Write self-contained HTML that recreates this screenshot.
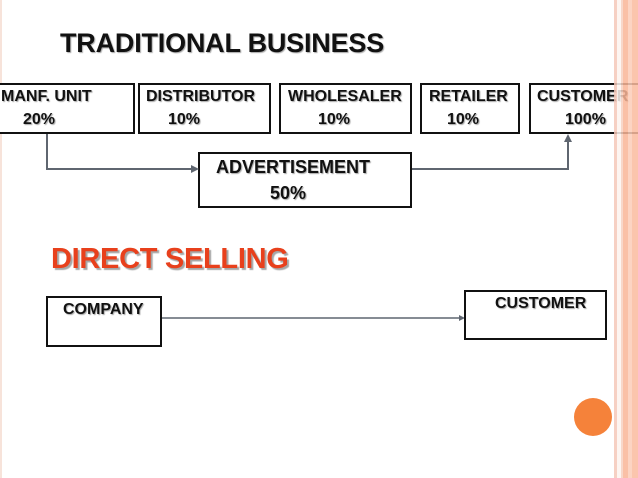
<!DOCTYPE html>
<html><head><meta charset="utf-8"><style>
html,body{margin:0;padding:0}
body{width:638px;height:478px;position:relative;overflow:hidden;background:#fff;font-family:"Liberation Sans",Arial,sans-serif;font-weight:bold;color:#111}
.t{position:absolute;white-space:nowrap;text-shadow:1px 1px 1px rgba(0,0,0,.35)}
.b{position:absolute;border:2px solid #111;box-sizing:border-box;background:#fff}
.s{position:absolute;top:0;height:478px}
</style></head><body>
<div class="s" style="left:0;width:2px;background:#f7e3da"></div>

<div class="t" style="left:60px;top:28px;font-size:27px;letter-spacing:-0.2px">TRADITIONAL BUSINESS</div>

<div class="b" style="left:-4px;top:83px;width:139px;height:51px"></div>
<div class="b" style="left:138px;top:83px;width:133px;height:51px"></div>
<div class="b" style="left:279px;top:83px;width:133px;height:51px"></div>
<div class="b" style="left:420px;top:83px;width:100px;height:51px"></div>
<div class="b" style="left:529px;top:83px;width:120px;height:51px"></div>
<div class="b" style="left:198px;top:152px;width:214px;height:56px"></div>

<div class="t" style="left:1px;top:88px;font-size:16px">MANF. UNIT</div>
<div class="t" style="left:23px;top:111px;font-size:16px">20%</div>
<div class="t" style="left:146px;top:88px;font-size:16px">DISTRIBUTOR</div>
<div class="t" style="left:168px;top:111px;font-size:16px">10%</div>
<div class="t" style="left:288px;top:88px;font-size:16px">WHOLESALER</div>
<div class="t" style="left:318px;top:111px;font-size:16px">10%</div>
<div class="t" style="left:429px;top:88px;font-size:16px">RETAILER</div>
<div class="t" style="left:447px;top:111px;font-size:16px">10%</div>
<div class="t" style="left:537px;top:88px;font-size:16px">CUSTOMER</div>
<div class="t" style="left:565px;top:111px;font-size:16px">100%</div>
<div class="t" style="left:216px;top:157px;font-size:18px">ADVERTISEMENT</div>
<div class="t" style="left:270px;top:183px;font-size:18px">50%</div>

<svg style="position:absolute;left:0;top:0" width="638" height="478">
<polyline points="47,134 47,169 193,169" fill="none" stroke="#5f6670" stroke-width="2"/>
<polygon points="199,169 191,165 191,173" fill="#5f6670"/>
<polyline points="412,169 568,169 568,141" fill="none" stroke="#5f6670" stroke-width="2"/>
<polygon points="568,134 564,142 572,142" fill="#5f6670"/>
<line x1="161" y1="318" x2="460" y2="318" stroke="#5f6670" stroke-width="1.5"/>
<polygon points="465,318 459,315 459,321" fill="#5f6670"/>
<circle cx="593" cy="417" r="19" fill="#f5823a"/>
</svg>

<div class="t" style="left:51px;top:243px;font-size:29px;color:#e8401c;letter-spacing:-0.3px;text-shadow:2px 2px 1px rgba(0,0,0,.35)">DIRECT SELLING</div>

<div class="b" style="left:46px;top:296px;width:116px;height:51px"></div>
<div class="t" style="left:63px;top:301px;font-size:16px">COMPANY</div>
<div class="b" style="left:464px;top:290px;width:143px;height:50px"></div>
<div class="t" style="left:495px;top:295px;font-size:16px">CUSTOMER</div>

<div class="s" style="left:614px;width:3px;background:#f5c8b8;opacity:.85"></div>
<div class="s" style="left:617px;width:4px;background:#fdf3ee;opacity:.85"></div>
<div class="s" style="left:621px;width:2px;background:#f7d0c0;opacity:.85"></div>
<div class="s" style="left:623px;width:5px;background:#f9b596;opacity:.85"></div>
<div class="s" style="left:628px;width:4px;background:#fbcdb8;opacity:.85"></div>
<div class="s" style="left:632px;width:6px;background:#fabb9f;opacity:.85"></div>
</body></html>
